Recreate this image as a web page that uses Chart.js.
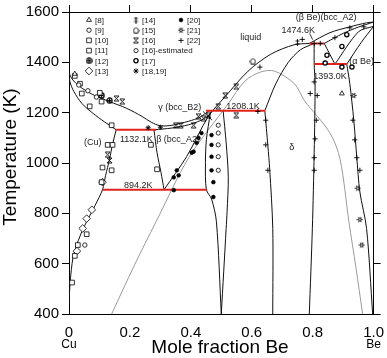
<!DOCTYPE html>
<html>
<head>
<meta charset="utf-8">
<script src="https://cdn.jsdelivr.net/npm/chart.js@4.4.0/dist/chart.umd.min.js"></script>
<style>
html, body { margin: 0; padding: 0; background: #fff; }
#wrap { width: 387px; height: 358px; }
</style>
</head>
<body>
<div id="wrap"><canvas id="phaseChart" width="387" height="358"></canvas></div>
<script>
// Cu-Be phase diagram
// every curve is a list of [mole fraction Be, temperature K]

const xTicks = [0, 0.2, 0.4, 0.6, 0.8, 1.0];
const yTicks = [400, 600, 800, 1000, 1200, 1400, 1600];

// phase boundaries (black)
const cuLiquidus = [[0,1358],[0.01,1334],[0.036,1303],[0.078,1272],[0.133,1244],[0.188,1218],[0.24,1185],[0.27,1162],[0.3,1148],[0.338,1150],[0.393,1166],[0.43,1182],[0.46,1208]];
const cuSolidus = [[0,1358],[0.003,1323],[0.016,1284],[0.042,1237],[0.078,1198],[0.117,1163],[0.155,1132]];
const cuSolvus = [[0.155,1132],[0.143,1075],[0.133,1014],[0.12,950],[0.11,894],[0.085,830],[0.058,767],[0.045,735],[0.026,677],[0.013,623],[0.004,530],[0,440]];
const betaSolidus = [[0.279,1132],[0.338,1139],[0.393,1152],[0.43,1168],[0.458,1188],[0.47,1208]];
const betaLeft = [[0.279,1132],[0.289,1041],[0.302,963],[0.312,894]];
const gammaLiquidus = [[0.312,894],[0.386,1025],[0.458,1186],[0.513,1264],[0.588,1365],[0.662,1432],[0.74,1470],[0.789,1475]];
const gammaLeft = [[0.464,1198],[0.451,1092],[0.448,1002],[0.451,894],[0.468,857],[0.484,767],[0.5,400]];
const gammaRight = [[0.506,1208],[0.516,1080],[0.523,943],[0.519,806],[0.516,740],[0.5,400]];
const deltaLower = [[0.643,1208],[0.653,1068],[0.659,975],[0.669,740],[0.669,400]];
const deltaUpper = [[0.643,1208],[0.679,1315],[0.72,1400],[0.76,1450],[0.805,1475]];
const deltaRight = [[0.805,1475],[0.805,1393],[0.808,1315],[0.805,1041],[0.799,740],[0.789,400]];
const betaBeLeft = [[0.838,1475],[0.873,1393]];
const betaBeRight = [[0.873,1393],[0.951,1522],[1.0,1543]];
const alphaBeTop = [[0.912,1393],[0.96,1480],[1.0,1543]];
const alphaBeSolvus = [[0.912,1393],[0.922,1315],[0.935,1170],[0.945,1021],[0.955,885],[0.977,740],[0.997,400]];
const beLiquidus = [[0.789,1475],[0.857,1518],[0.922,1541],[0.977,1557],[1.0,1560]];
const betaBeSolidus = [[0.838,1475],[0.9,1515],[0.95,1540],[1.0,1560]];

// A2 / B2 ordering line (grey)
const orderLine = [[0.14,400],[0.214,592],[0.286,767],[0.393,1021],[0.523,1236],[0.578,1326],[0.63,1362],[0.675,1365],[0.74,1315],[0.773,1248],[0.857,1119],[0.89,1015],[0.919,767],[0.942,585],[0.964,400]];

// invariant reactions (red)
const iso1132 = [[0.155,1132.1],[0.286,1132.1]];
const iso894 = [[0.11,894.2],[0.452,894.2]];
const iso1208 = [[0.45,1208.1],[0.643,1208.1]];
const iso1475 = [[0.789,1474.6],[0.838,1474.6]];
const iso1393 = [[0.805,1393.0],[0.912,1393.0]];

// experimental points
const ref8 = [[0.019,1354],[0.896,1276]];
const ref9 = [[0.062,1287],[0.052,674],[0.09,1262],[0.032,1310]];
const ref10 = [[0.019,1346],[0.036,1315],[0.042,1276],[0.101,1279],[0.068,1225],[0.107,1244],[0.14,1150],[0.127,1072],[0.143,1072],[0.11,982],[0.14,971],[0.107,924]];
const ref11 = [[0.289,975],[0.269,1072],[0.058,717],[0.029,674],[0.019,631],[0.01,525]];
const ref12 = [[0.107,1268],[0.133,1248]];
const ref13 = [[0.11,924],[0.075,814],[0.058,779],[0.045,740],[0.026,650]];
const ref14 = [[0.75,1479]];
const ref15 = [[0.604,1405]];
const ref16 = [[0.156,1256],[0.175,1244],[0.351,1150],[0.367,1150],[0.409,1150],[0.425,1186],[0.442,1178],[0.458,1190],[0.49,1225],[0.513,1268],[0.549,1303],[0.549,1190],[0.127,1033],[0.133,1010]];
const ref16est = [[0.49,1150],[0.49,1119],[0.49,1072],[0.49,1025],[0.49,971]];
const ref17 = [[0.841,1397],[0.847,1428],[0.896,1463],[0.912,1510],[0.896,1381],[0.929,1381]];
const ref18 = [[0.26,1140],[0.3,1142]];
const ref20 = [[0.435,1119],[0.425,1100],[0.419,1080],[0.403,1041],[0.409,1045],[0.354,971],[0.36,951],[0.344,943],[0.344,892],[0.468,1111],[0.468,1072],[0.468,1025],[0.468,971],[0.474,924],[0.474,865]];
const ref21 = [[0.961,674],[0.955,775],[0.948,900],[0.935,1268]];
const ref22 = [[0.62,1205],[0.646,1170],[0.646,1072],[0.653,971],[0.815,1268],[0.812,1170],[0.808,1096],[0.805,1021],[0.805,971],[0.932,1170],[0.938,1092],[0.945,1021],[0.955,971],[0.627,1381],[0.766,1491],[0.873,1498],[0.922,1537],[0.968,1541],[0.792,1276],[0.805,1322],[0.805,1475],[0.825,1475]];

const fontFamily = "'Liberation Sans', Arial, sans-serif";
const red = '#e2231a';

function pts(list) {
    return list.map(p => ({ x: p[0], y: p[1] }));
}

// small hand-drawn symbols for the ones Chart.js has no style for
function makeSymbol(draw) {
    const c = document.createElement('canvas');
    c.width = 7; c.height = 7;
    const g = c.getContext('2d');
    g.strokeStyle = '#000';
    g.fillStyle = '#000';
    g.lineWidth = 0.9;
    g.beginPath();
    draw(g);
    return c;
}

const hourglass = makeSymbol(g => {
    g.moveTo(1, 1); g.lineTo(6, 1); g.lineTo(1, 6); g.lineTo(6, 6); g.closePath();
    g.stroke();
});
const dagger = makeSymbol(g => {
    g.moveTo(3.5, 0); g.lineTo(3.5, 7);
    g.moveTo(1.5, 2); g.lineTo(5.5, 2);
    g.moveTo(1.5, 5); g.lineTo(5.5, 5);
    g.stroke();
});
const house = makeSymbol(g => {
    g.moveTo(3.5, 0.8); g.lineTo(6.2, 3); g.lineTo(5.5, 6.2); g.lineTo(1.5, 6.2); g.lineTo(0.8, 3); g.closePath();
    g.stroke();
});
const circlePlus = makeSymbol(g => {
    g.lineWidth = 1.2;
    g.arc(3.5, 3.5, 2.6, 0, Math.PI * 2);
    g.stroke();
    g.beginPath();
    g.moveTo(3.5, 1.5); g.lineTo(3.5, 5.5); g.moveTo(1.5, 3.5); g.lineTo(5.5, 3.5);
    g.stroke();
});
const flower = makeSymbol(g => {
    for (let i = 0; i < 6; i++) {
        const a = i * Math.PI / 3;
        g.moveTo(3.5, 3.5);
        g.lineTo(3.5 + 3 * Math.cos(a), 3.5 + 3 * Math.sin(a));
    }
    g.stroke();
    g.beginPath();
    g.fillStyle = '#fff';
    g.arc(3.5, 3.5, 1.3, 0, Math.PI * 2);
    g.fill();
    g.stroke();
});

// reference sets: label, data, point style, fill, radius, border width
const refs = [
    ['[8]', ref8, 'triangle', '#fff', 2.8, 0.8],
    ['[9]', ref9, 'circle', '#fff', 2.2, 0.8],
    ['[10]', ref10, 'rect', '#fff', 3.3, 0.8],
    ['[11]', ref11, 'rect', '#fff', 3.3, 0.8],
    ['[12]', ref12, circlePlus, '#fff', 3, 1],
    ['[13]', ref13, 'rectRot', '#fff', 3.8, 0.8],
    ['[14]', ref14, dagger, '#fff', 3, 1],
    ['[15]', ref15, house, '#fff', 3, 1],
    ['[16]', ref16, hourglass, '#fff', 3, 1],
    ['[16]-estimated', ref16est, 'circle', '#fff', 2.1, 0.8],
    ['[17]', ref17, 'circle', '#fff', 2.1, 1.3],
    ['[18,19]', ref18, 'star', '#000', 2.6, 0.9],
    ['[20]', ref20, 'circle', '#000', 1.9, 0.6],
    ['[21]', ref21, flower, '#fff', 3, 1],
    ['[22]', ref22, 'cross', '#000', 2.6, 0.9]
];

function curve(data, color, width, order) {
    return {
        data: pts(data),
        showLine: true,
        borderColor: color,
        borderWidth: width,
        pointRadius: 0,
        tension: 0.3,
        fill: false,
        order: order
    };
}

const datasets = [];
refs.forEach(r => {
    datasets.push({
        label: r[0],
        data: pts(r[1]),
        showLine: false,
        pointStyle: r[2],
        pointRadius: r[4],
        pointBorderWidth: r[5],
        pointBorderColor: '#000',
        pointBackgroundColor: r[3],
        order: 0
    });
});
[cuLiquidus, cuSolidus, cuSolvus, betaSolidus, betaLeft, gammaLiquidus, gammaLeft, gammaRight,
 deltaLower, deltaUpper, deltaRight, betaBeLeft, betaBeRight, alphaBeTop, alphaBeSolvus,
 beLiquidus, betaBeSolidus].forEach(c => datasets.push(curve(c, '#111', 1, 2)));
datasets.push(curve(orderLine, '#9a9a9a', 1, 3));
[iso1132, iso894, iso1208, iso1475, iso1393].forEach(c => {
    const d = curve(c, red, 2, 1);
    d.tension = 0;
    datasets.push(d);
});

// region labels and temperatures, placed in data units
const labels = [
    ['(Cu)', 0.078, 1080],
    ['1132.1K', 0.221, 1092],
    ['\u03b2 (bcc_A2)', 0.358, 1092],
    ['\u03b3 (bcc_B2)', 0.364, 1221],
    ['894.2K', 0.227, 912],
    ['1208.1K', 0.571, 1225],
    ['\u03b4', 0.731, 1060],
    ['liquid', 0.597, 1498],
    ['(\u03b2 Be)(bcc_A2)', 0.844, 1577],
    ['1474.6K', 0.753, 1526],
    ['1393.0K', 0.857, 1342],
    ['(\u03b1 Be)', 0.961, 1405]
];

const textPlugin = {
    id: 'phaseText',
    afterDatasetsDraw(chart) {
        const { ctx, scales, chartArea } = chart;
        ctx.save();
        ctx.fillStyle = '#222';
        ctx.font = '9px ' + fontFamily;
        ctx.textAlign = 'center';
        ctx.textBaseline = 'middle';
        labels.forEach(l => {
            ctx.fillText(l[0], scales.x.getPixelForValue(l[1]), scales.y.getPixelForValue(l[2]));
        });

        // pointers from labels
        ctx.strokeStyle = '#000';
        ctx.lineWidth = 0.8;
        ctx.beginPath();
        ctx.moveTo(scales.x.getPixelForValue(0.44), scales.y.getPixelForValue(1205));
        ctx.lineTo(scales.x.getPixelForValue(0.47), scales.y.getPixelForValue(1170));
        ctx.moveTo(scales.x.getPixelForValue(0.79), scales.y.getPixelForValue(1515));
        ctx.lineTo(scales.x.getPixelForValue(0.8), scales.y.getPixelForValue(1490));
        ctx.stroke();

        // legend block, three columns in the top-left corner
        ctx.font = '8px ' + fontFamily;
        ctx.textAlign = 'left';
        const colX = [20, 67, 112];
        const perCol = [6, 6, 3];
        let k = 0;
        colX.forEach((cx, ci) => {
            for (let i = 0; i < perCol[ci]; i++, k++) {
                const r = refs[k];
                const px = chartArea.left + cx;
                const py = chartArea.top + 8 + i * 10.2;
                ctx.fillStyle = r[3];
                ctx.strokeStyle = '#000';
                ctx.lineWidth = r[5];
                Chart.helpers.drawPoint(ctx, { pointStyle: r[2], radius: r[4], rotation: 0, borderWidth: r[5] }, px, py);
                ctx.fillStyle = '#222';
                ctx.fillText(r[0], px + 6, py + 0.5);
            }
        });

        // axis titles and end labels
        ctx.fillStyle = '#000';
        ctx.textAlign = 'center';
        ctx.font = '19px ' + fontFamily;
        ctx.fillText('Mole fraction Be', 220, 348);
        ctx.font = '12px ' + fontFamily;
        ctx.fillText('Cu', chartArea.left, 345);
        ctx.fillText('Be', chartArea.right, 345);
        ctx.save();
        ctx.translate(11, (chartArea.top + chartArea.bottom) / 2 - 6);
        ctx.rotate(-Math.PI / 2);
        ctx.font = '19px ' + fontFamily;
        ctx.fillText('Temperature (K)', 0, 0);
        ctx.restore();
        ctx.restore();
    }
};

function axis(pos, min, max, ticks, size, labelsOn) {
    return {
        type: 'linear',
        position: pos,
        min: min,
        max: max,
        afterBuildTicks: s => { s.ticks = ticks.map(v => ({ value: v })); },
        afterFit: s => {
            if (pos === 'left' || pos === 'right') s.width = size; else s.height = size;
        },
        grid: {
            drawOnChartArea: false,
            drawTicks: true,
            tickLength: 7,
            color: '#000',
            // the bottom axis carries no tick marks in the figure
            tickColor: pos === 'bottom' ? 'rgba(0,0,0,0)' : '#000',
            lineWidth: 1
        },
        border: { display: true, color: '#000', width: 1 },
        ticks: {
            display: labelsOn,
            color: '#000',
            padding: 3,
            font: { size: 15, family: fontFamily },
            callback: v => (pos === 'bottom' ? (v === 0 ? '0' : Number(v).toFixed(1)) : v)
        }
    };
}

new Chart(document.getElementById('phaseChart'), {
    type: 'scatter',
    data: { datasets: datasets },
    options: {
        responsive: false,
        animation: false,
        devicePixelRatio: 1,
        layout: { padding: 0 },
        plugins: { legend: { display: false }, tooltip: { enabled: false } },
        scales: {
            x: axis('bottom', 0, 1, xTicks, 44, true),
            x2: axis('top', 0, 1, xTicks, 7, false),
            y: axis('left', 400, 1600, yTicks, 69, true),
            y2: axis('right', 400, 1600, yTicks, 10, false)
        }
    },
    plugins: [textPlugin]
});
</script>
</body>
</html>
